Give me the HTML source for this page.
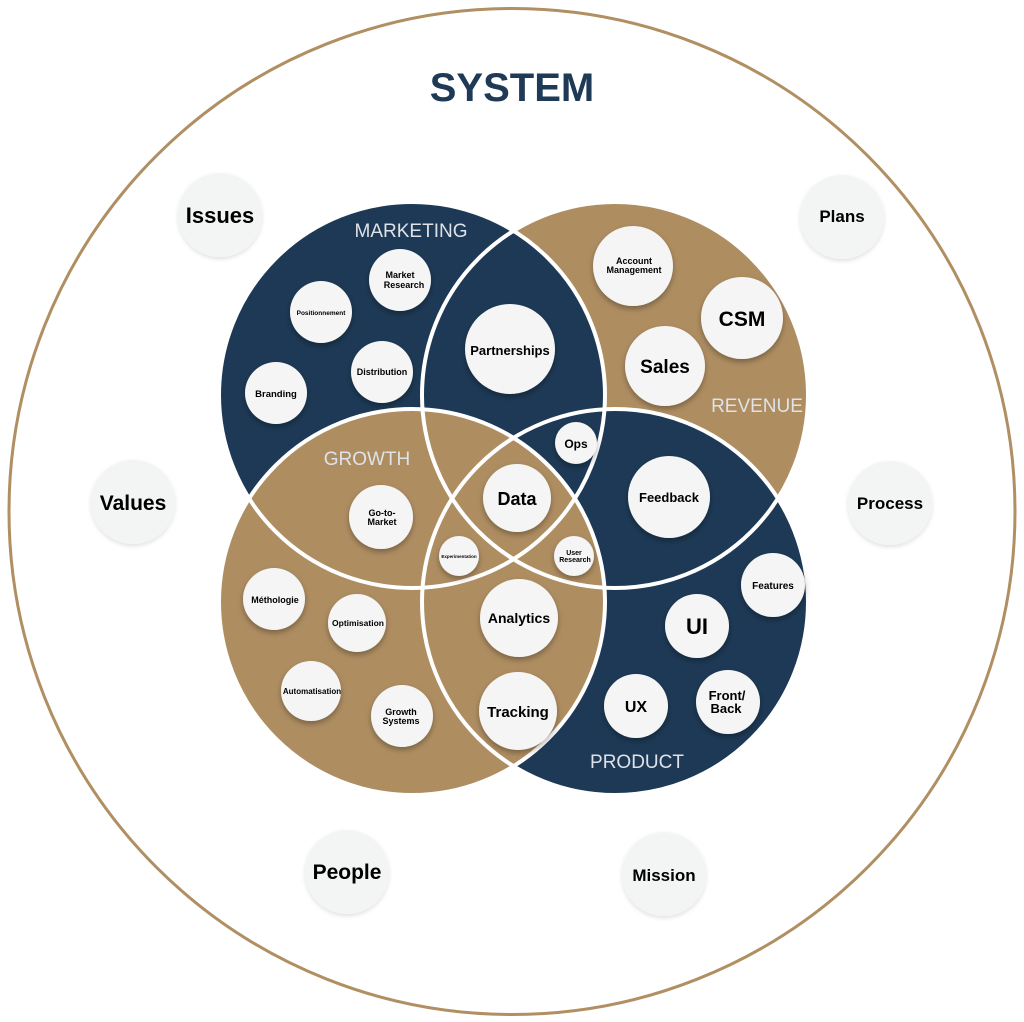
<!DOCTYPE html>
<html><head><meta charset="utf-8"><style>
html,body{margin:0;padding:0;background:#fff;}
svg{display:block;}
text{font-family:"Liberation Sans",sans-serif;}
</style></head><body>
<svg width="1024" height="1022" viewBox="0 0 1024 1022" xmlns="http://www.w3.org/2000/svg">
<defs>
<filter id="sh" x="-30%" y="-30%" width="160%" height="170%">
<feDropShadow dx="0" dy="3" stdDeviation="3" flood-color="#000" flood-opacity="0.3"/>
</filter>
<filter id="sh2" x="-30%" y="-30%" width="160%" height="170%">
<feDropShadow dx="0" dy="2" stdDeviation="2" flood-color="#000" flood-opacity="0.12"/>
</filter>
</defs>
<rect width="1024" height="1022" fill="#fff"/>
<circle cx="512" cy="511.5" r="503" fill="none" stroke="#b08f62" stroke-width="3"/>
<text x="512" y="101" text-anchor="middle" font-size="40" font-weight="bold" fill="#1e3a56">SYSTEM</text>

<!-- main circles -->
<circle cx="615" cy="395" r="193" fill="#ae8d61"/>
<circle cx="412" cy="395" r="193" fill="#1d3955"/>
<circle cx="615" cy="602" r="193" fill="#1d3955"/>
<circle cx="412" cy="602" r="193" fill="#ae8d61"/>
<g fill="none" stroke="#fff" stroke-width="4">
<circle cx="412" cy="395" r="193"/>
<circle cx="615" cy="395" r="193"/>
<circle cx="412" cy="602" r="193"/>
<circle cx="615" cy="602" r="193"/>
</g>

<g font-size="19" fill="#dfe2e8" text-anchor="middle">
<text x="411" y="237">MARKETING</text>
<text x="757" y="412">REVENUE</text>
<text x="367" y="465">GROWTH</text>
<text x="637" y="768">PRODUCT</text>
</g>

<!-- outer nodes -->
<g fill="#f3f4f4" filter="url(#sh2)">
<circle cx="220" cy="215" r="42"/>
<circle cx="842" cy="217" r="42"/>
<circle cx="133" cy="502" r="42"/>
<circle cx="890" cy="503" r="42"/>
<circle cx="347" cy="872" r="42"/>
<circle cx="664" cy="874" r="42"/>
</g>
<g font-weight="bold" fill="#000" text-anchor="middle">
<text x="220" y="223" font-size="22">Issues</text>
<text x="842" y="222" font-size="17">Plans</text>
<text x="133" y="510" font-size="21">Values</text>
<text x="890" y="509" font-size="17">Process</text>
<text x="347" y="879" font-size="21">People</text>
<text x="664" y="881" font-size="17">Mission</text>
</g>

<!-- inner nodes -->
<g fill="#f5f5f5" filter="url(#sh)">
<circle cx="400" cy="280" r="31"/>
<circle cx="321" cy="312" r="31"/>
<circle cx="382" cy="372" r="31"/>
<circle cx="276" cy="393" r="31"/>
<circle cx="510" cy="349" r="45"/>
<circle cx="633" cy="266" r="40"/>
<circle cx="742" cy="318" r="41"/>
<circle cx="665" cy="366" r="40"/>
<circle cx="576" cy="443" r="21"/>
<circle cx="381" cy="517" r="32"/>
<circle cx="517" cy="498" r="34"/>
<circle cx="669" cy="497" r="41"/>
<circle cx="459" cy="556" r="20"/>
<circle cx="574" cy="556" r="20"/>
<circle cx="274" cy="599" r="31"/>
<circle cx="357" cy="623" r="29"/>
<circle cx="311" cy="691" r="30"/>
<circle cx="402" cy="716" r="31"/>
<circle cx="519" cy="618" r="39"/>
<circle cx="518" cy="711" r="39"/>
<circle cx="773" cy="585" r="32"/>
<circle cx="697" cy="626" r="32"/>
<circle cx="636" cy="706" r="32"/>
<circle cx="728" cy="702" r="32"/>
</g>
<g font-weight="bold" fill="#000" text-anchor="middle">
<text x="400" y="278" font-size="9">Market</text>
<text x="404" y="288" font-size="9">Research</text>
<text x="321" y="315" font-size="6.5">Positionnement</text>
<text x="382" y="375" font-size="9">Distribution</text>
<text x="276" y="397" font-size="9.5">Branding</text>
<text x="510" y="355" font-size="13">Partnerships</text>
<text x="634" y="264" font-size="9">Account</text>
<text x="634" y="273" font-size="9">Management</text>
<text x="742" y="326" font-size="21">CSM</text>
<text x="665" y="373" font-size="19">Sales</text>
<text x="576" y="448" font-size="12">Ops</text>
<text x="382" y="516" font-size="9">Go-to-</text>
<text x="382" y="525" font-size="9">Market</text>
<text x="517" y="505" font-size="18">Data</text>
<text x="669" y="502" font-size="13">Feedback</text>
<text x="459" y="558" font-size="4.5">Experimentation</text>
<text x="574" y="555" font-size="7">User</text>
<text x="575" y="562" font-size="7">Research</text>
<text x="275" y="603" font-size="9">Méthologie</text>
<text x="358" y="626" font-size="8.5">Optimisation</text>
<text x="312" y="694" font-size="8">Automatisation</text>
<text x="401" y="715" font-size="9">Growth</text>
<text x="401" y="724" font-size="9">Systems</text>
<text x="519" y="623" font-size="14">Analytics</text>
<text x="518" y="717" font-size="15">Tracking</text>
<text x="773" y="589" font-size="10">Features</text>
<text x="697" y="634" font-size="22">UI</text>
<text x="636" y="712" font-size="16">UX</text>
<text x="727" y="700" font-size="13">Front/</text>
<text x="726" y="713" font-size="13">Back</text>
</g>
</svg>
</body></html>
